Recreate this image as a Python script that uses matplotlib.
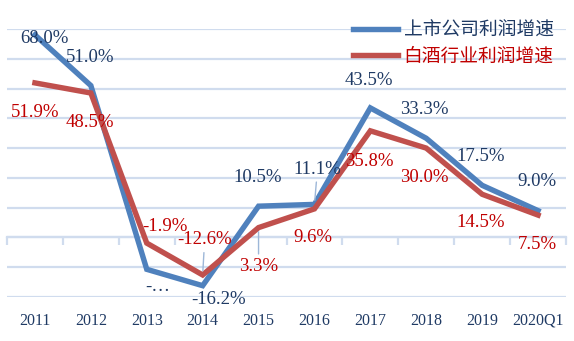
import matplotlib
matplotlib.use("Agg")
import matplotlib.pyplot as plt

# Annual profit growth (%)
categories = ["2011", "2012", "2013", "2014", "2015", "2016", "2017", "2018", "2019", "2020Q1"]
listed_growth = [68.0, 51.0, -10.7, -16.2, 10.5, 11.1, 43.5, 33.3, 17.5, 9.0]
baijiu_growth = [51.9, 48.5, -1.9, -12.6, 3.3, 9.6, 35.8, 30.0, 14.5, 7.5]
listed_labels = ["68.0%", "51.0%", "-…", "-16.2%", "10.5%", "11.1%", "43.5%", "33.3%", "17.5%", "9.0%"]
baijiu_labels = ["51.9%", "48.5%", "-1.9%", "-12.6%", "3.3%", "9.6%", "35.8%", "30.0%", "14.5%", "7.5%"]
series_names = ["上市公司利润增速", "白酒行业利润增速"]

BLUE = "#4F81BD"
RED = "#C0504D"
BLUE_TXT = "#1F3A64"
RED_TXT = "#C00000"
GRID = "#D0DCEE"
LEADER = "#9DB7D8"

W, H, DPI = 574, 341, 100
fig = plt.figure(figsize=(W / DPI, H / DPI), dpi=DPI)
ax = fig.add_axes([7 / W, (H - 297) / H, (566 - 7) / W, (297 - 29) / H])

x = list(range(len(categories)))
ax.set_xlim(-0.5, len(categories) - 0.5)
ax.set_ylim(-20, 70)

# horizontal grid
ax.set_yticks(range(-20, 71, 10))
ax.yaxis.grid(True, color=GRID, lw=1.6)
ax.set_axisbelow(True)
ax.tick_params(axis="y", length=0, labelleft=False)
for s in ["left", "right", "top"]:
    ax.spines[s].set_visible(False)

# category axis sits at zero, with boundary tick marks
ax.spines["bottom"].set_position(("data", 0))
ax.spines["bottom"].set_color(GRID)
ax.spines["bottom"].set_linewidth(1.6)
ax.set_xticks([i - 0.5 for i in range(len(categories) + 1)], minor=True)
ax.tick_params(axis="x", which="minor", length=6, width=1.6, color=GRID, direction="out")
ax.set_xticks(x)
ax.tick_params(axis="x", which="major", length=0, labelbottom=False)

# category names along the bottom edge
sec = ax.secondary_xaxis(0)
sec.set_xticks(x, labels=categories)
sec.tick_params(length=0, pad=20, labelsize=11.5, labelcolor=BLUE_TXT)
for lbl in sec.get_xticklabels():
    lbl.set_family("Liberation Serif")
    lbl.set_va("baseline")
sec.spines["bottom"].set_visible(False)

l1, = ax.plot(x, listed_growth, color=BLUE, lw=3.9, solid_joinstyle="miter", zorder=3)
l2, = ax.plot(x, baijiu_growth, color=RED, lw=3.9, solid_joinstyle="miter", zorder=4)

# label offsets in pixels (dx, dy)
listed_off = [(9, -4), (-1, 28), (11, -17), (16, -14), (-1, 29), (3, 35), (-1, 27), (-2, 29), (-1, 29), (-1, 29)]
baijiu_off = [(0, -30), (-1, -29), (18, 17), (2, 35), (0, -39), (-2, -29), (-1, -31), (-2, -29), (-1, -28), (-1, -29)]
listed_leader = {5}
baijiu_leader = {3, 4}

def label(xi, v, text, off, color, leader):
    kw = {}
    if leader:
        kw["arrowprops"] = dict(arrowstyle="-", color=LEADER, lw=1.0, shrinkA=1, shrinkB=3)
    ax.annotate(text, (xi, v), xytext=off, textcoords="offset pixels",
                ha="center", va="center", fontsize=13.5, family="Liberation Serif",
                color=color, zorder=6, **kw)

for i in x:
    label(i, listed_growth[i], listed_labels[i], listed_off[i], BLUE_TXT, i in listed_leader)
    label(i, baijiu_growth[i], baijiu_labels[i], baijiu_off[i], RED_TXT, i in baijiu_leader)

leg = fig.legend([l1, l2], series_names, loc="upper left",
                 bbox_to_anchor=(344 / W, 1 - 10 / H), frameon=False,
                 prop={"family": ["Noto Sans CJK SC", "DejaVu Sans"], "size": 13.5,
                       "weight": "light"},
                 handlelength=2.4, handletextpad=0.28, labelspacing=0.3,
                 borderpad=0, labelcolor=[BLUE_TXT, RED_TXT])
for h in leg.get_lines():
    h.set_linewidth(3.9)

fig.savefig("out.png", dpi=DPI)
